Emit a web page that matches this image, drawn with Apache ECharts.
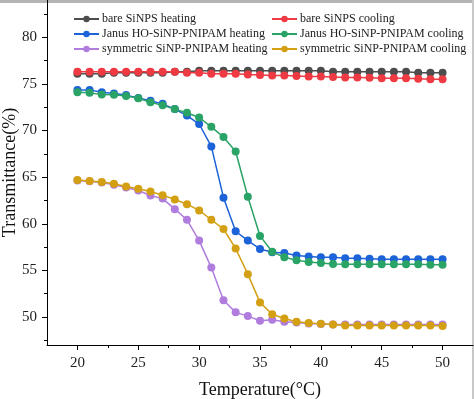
<!DOCTYPE html>
<html>
<head>
<meta charset="utf-8">
<script src="https://cdn.jsdelivr.net/npm/echarts@6/dist/echarts.min.js"></script>
<style>
  html, body { margin: 0; padding: 0; background: #fff; }
  #main { width: 474px; height: 399px; }
</style>
</head>
<body>
<div id="main"></div>
<script>
// temperature points (°C)
var temps = [20,21,22,23,24,25,26,27,28,29,30,31,32,33,34,35,36,37,38,39,40,41,42,43,44,45,46,47,48,49,50];

// transmittance (%)
var bareHeating = [76.1,76.1,76.1,76.2,76.2,76.2,76.2,76.2,76.3,76.3,76.4,76.4,76.4,76.4,76.4,76.4,76.4,76.4,76.4,76.4,76.4,76.3,76.3,76.3,76.3,76.3,76.3,76.3,76.2,76.2,76.2];
var bareCooling = [76.3,76.3,76.3,76.3,76.3,76.3,76.3,76.3,76.3,76.2,76.2,76.1,76.1,76.1,76.0,75.95,75.9,75.9,75.85,75.8,75.8,75.75,75.7,75.7,75.65,75.6,75.6,75.6,75.55,75.5,75.5];
var janusHeating = [74.36,74.36,74.1,73.97,73.8,73.5,73.2,72.86,72.3,71.6,70.7,68.3,62.8,59.2,58.2,57.3,56.95,56.86,56.6,56.5,56.4,56.4,56.3,56.3,56.25,56.2,56.2,56.2,56.2,56.2,56.2];
var janusCooling = [74.1,74.04,73.86,73.83,73.7,73.47,73.04,72.7,72.3,71.9,71.4,70.4,69.3,67.75,62.9,58.7,57.0,56.4,56.1,55.9,55.8,55.7,55.65,55.65,55.65,55.65,55.65,55.65,55.65,55.6,55.6];
var symHeating = [64.64,64.57,64.43,64.18,63.9,63.57,63.04,62.7,61.57,60.43,58.2,55.3,51.8,50.5,50.1,49.6,49.7,49.5,49.4,49.3,49.25,49.2,49.2,49.2,49.2,49.2,49.2,49.2,49.2,49.2,49.2];
var symCooling = [64.7,64.6,64.47,64.3,64.0,63.75,63.46,63.07,62.6,62.1,61.43,60.43,59.43,57.35,54.6,51.57,50.3,49.85,49.5,49.35,49.27,49.2,49.1,49.1,49.1,49.1,49.1,49.1,49.1,49.1,49.05];

var xTicks = [20,25,30,35,40,45,50];
var xMinorTicks = [22.5,27.5,32.5,37.5,42.5,47.5];
var yTicks = [50,55,60,65,70,75,80];
var yMinorTicks = [47.5,52.5,57.5,62.5,67.5,72.5,77.5,82.5];

var names = [
  "bare SiNPS heating", "bare SiNPS cooling",
  "Janus HO-SiNP-PNIPAM heating", "Janus HO-SiNP-PNIPAM cooling",
  "symmetric SiNP-PNIPAM heating", "symmetric SiNP-PNIPAM cooling"
];
var colors = ["#4d4d4d", "#ee3a43", "#1c62d8", "#2aa366", "#b07ddf", "#d4a013"];
var allData = [bareHeating, bareCooling, janusHeating, janusCooling, symHeating, symCooling];

var font = "Liberation Serif";

function pairs(vals) {
  var out = [];
  for (var i = 0; i < temps.length; i++) {
    out.push([temps[i], vals[i]]);
  }
  return out;
}

var series = [];
for (var i = 0; i < names.length; i++) {
  series.push({
    name: names[i],
    type: "line",
    data: pairs(allData[i]),
    symbol: "circle",
    symbolSize: 8,
    lineStyle: { width: 1.5, color: colors[i] },
    itemStyle: { color: colors[i] },
    z: 2 + i
  });
}

// one legend per entry so the two columns line up like the figure
var legendPos = [
  [73, 13], [271, 13],
  [73, 28], [271, 28],
  [73, 43], [271, 43]
];
var legends = [];
for (var j = 0; j < names.length; j++) {
  legends.push({
    data: [names[j]],
    left: legendPos[j][0],
    top: legendPos[j][1],
    padding: 0,
    itemWidth: 25,
    itemHeight: 8,
    itemGap: 0,
    selectedMode: false,
    textStyle: { fontFamily: font, fontSize: 12, color: "#222", padding: [0, 0, 0, -2] }
  });
}

var chart = echarts.init(document.getElementById("main"));
var option = {
  animation: false,
  backgroundColor: "#fff",
  legend: legends,
  grid: { left: 47, right: 1, top: 0, height: 345, outerBoundsMode: "none", containLabel: false },
  xAxis: [
    {
      type: "value",
      min: 17.5,
      max: 52.5,
      name: "Temperature(\u00B0C)",
      nameLocation: "middle",
      nameGap: 36,
      nameMoveOverlap: false,
      nameTextStyle: { fontFamily: font, fontSize: 18, color: "#111" },
      axisLine: { onZero: false, lineStyle: { color: "#000", width: 1 } },
      axisTick: { customValues: xTicks, length: 5, lineStyle: { color: "#000" } },
      axisLabel: { customValues: xTicks, margin: 11, fontFamily: font, fontSize: 15, color: "#222" },
      splitLine: { show: false }
    },
    {
      type: "value",
      min: 17.5,
      max: 52.5,
      position: "bottom",
      axisLine: { show: false },
      axisTick: { customValues: xMinorTicks, length: 3, lineStyle: { color: "#000" } },
      axisLabel: { show: false },
      splitLine: { show: false }
    }
  ],
  yAxis: [
    {
      type: "value",
      min: 47,
      max: 84,
      name: "Transmittance(%)",
      nameLocation: "middle",
      nameGap: 28,
      nameMoveOverlap: false,
      nameTextStyle: { fontFamily: font, fontSize: 18, color: "#111" },
      axisLine: { show: true, onZero: false, lineStyle: { color: "#000", width: 1 } },
      axisTick: { show: true, customValues: yTicks, length: 5, lineStyle: { color: "#000" } },
      axisLabel: { customValues: yTicks, margin: 10, fontFamily: font, fontSize: 15, color: "#222" },
      splitLine: { show: false }
    },
    {
      type: "value",
      min: 47,
      max: 84,
      position: "left",
      axisLine: { show: false },
      axisTick: { show: true, customValues: yMinorTicks, length: 3, lineStyle: { color: "#000" } },
      axisLabel: { show: false },
      splitLine: { show: false }
    }
  ],
  graphic: [
    { type: "rect", shape: { x: 0, y: 0, width: 474, height: 3 }, style: { fill: "#b4b4b4" }, silent: true },
    { type: "rect", shape: { x: 472, y: 0, width: 2, height: 399 }, style: { fill: "#c8c8c8" }, silent: true }
  ],
  series: series
};
chart.setOption(option);
</script>
</body>
</html>
